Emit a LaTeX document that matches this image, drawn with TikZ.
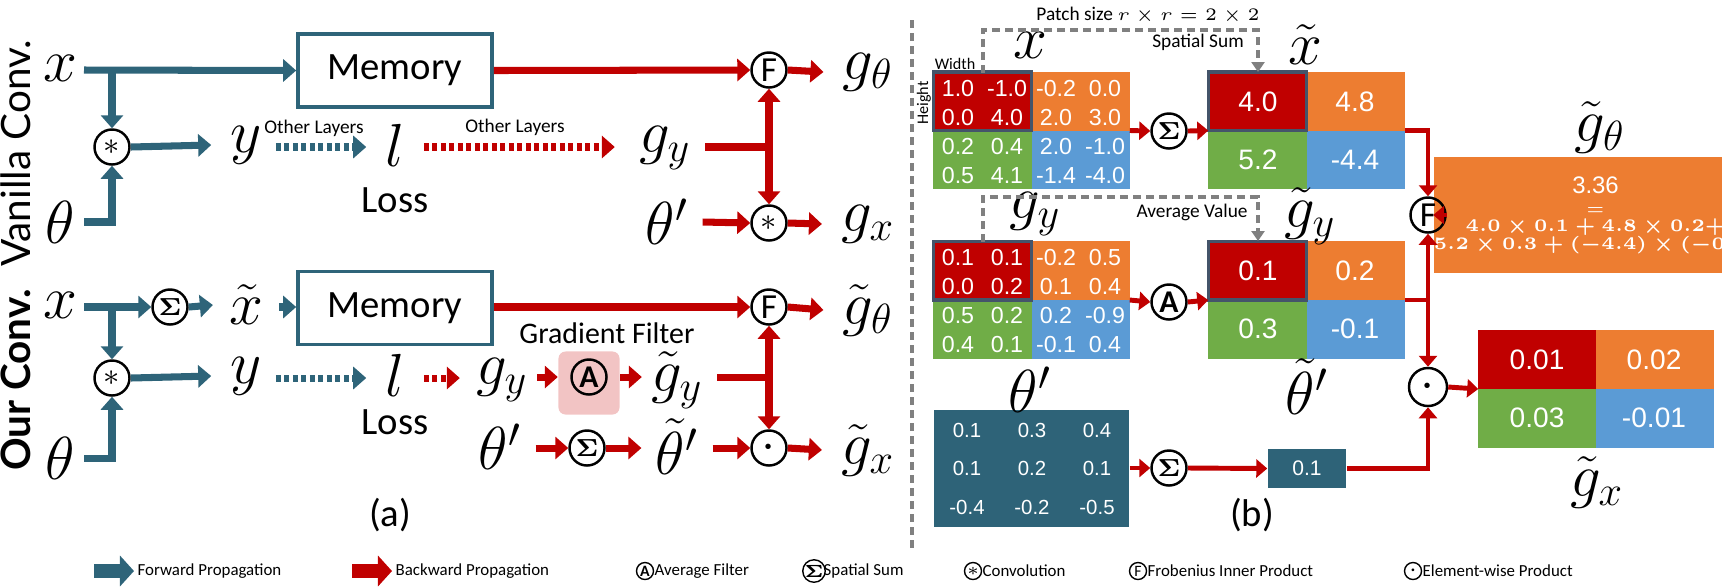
\documentclass[tikz,border=0pt]{standalone}
\usepackage{fontspec}
\usepackage{amsmath}
\setmainfont{Carlito}
\newfontfamily\numfont{Liberation Sans}
\newfontfamily\sidefont{Lato}
\usetikzlibrary{arrows.meta,positioning}

\definecolor{cteal}{HTML}{2E6479}
\definecolor{cred}{HTML}{C00000}
\definecolor{corange}{HTML}{ED7D31}
\definecolor{cgreen}{HTML}{70AD47}
\definecolor{cblue}{HTML}{5B9BD5}
\definecolor{cdark}{HTML}{2E6378}
\definecolor{cline}{HTML}{44546A}
\definecolor{cpink}{HTML}{F2C4C4}

\tikzset{
  fwd/.style={cteal, line width=2pt, -{Triangle[length=0.13cm,width=0.22cm]}},
  bwd/.style={cred, line width=2pt, -{Triangle[length=0.13cm,width=0.22cm]}},
  bwdline/.style={cred, line width=2pt},
  fwdline/.style={cteal, line width=2pt},
  dots/.style={dash pattern=on 0.05cm off 0.035cm},
  bwdb/.style={cred, line width=1.4pt, -{Triangle[length=0.11cm,width=0.18cm]}},
  bwdbline/.style={cred, line width=1.4pt},
  mth/.style={inner sep=1pt, font=\fontsize{17}{19}\selectfont},
  op/.style={circle, draw, line width=0.7pt, minimum size=0.35cm, inner sep=0pt, font=\fontsize{9}{10}\selectfont},
  lop/.style={circle, draw, line width=0.4pt, minimum size=0.17cm, inner sep=0pt, font=\fontsize{4}{4}\selectfont},
  mem/.style={draw=cteal, line width=1pt, minimum width=1.94cm, minimum height=0.73cm, font=\fontsize{11}{12}\selectfont},
  txt/.style={inner sep=0pt, font=\fontsize{11}{12}\selectfont},
  small/.style={inner sep=0pt, font=\fontsize{5.5}{6}\selectfont},
  leg/.style={inner sep=0pt, anchor=west, font=\fontsize{4.8}{5}\selectfont},
  num/.style={inner sep=0pt, text=white, font=\numfont\fontsize{6.6}{7}\selectfont},
  bignum/.style={inner sep=0pt, text=white, font=\numfont\fontsize{8}{9}\selectfont},
  mat/.style={inner sep=0pt, minimum width=1.95cm, minimum height=1.16cm},
  gdash/.style={gray, line width=0.9pt, dash pattern=on 0.08cm off 0.05cm},
}

% four coloured quadrants of a matrix node
\newcommand\quads[1]{%
  \fill[cred] (#1.north west) rectangle (#1.center);
  \fill[corange] (#1.north) rectangle (#1.east);
  \fill[cgreen] (#1.west) rectangle (#1.south);
  \fill[cblue] (#1.center) rectangle (#1.south east);
  \draw[cline, line width=1pt] ([shift={(0.01,-0.01)}]#1.north west) rectangle ([shift={(-0.01,0.01)}]#1.center);
}

\begin{document}
\begin{tikzpicture}[x=0.01cm, y=-0.01cm]
  \useasboundingbox (0,0) rectangle (1722,587);

  % (a) vanilla
  \node[rotate=90, font=\sidefont\fontsize{11.5}{12}\selectfont] (vlab) at (16,153) {Vanilla Conv.};
  \node[mth] (xa) at (60,68) {$x$};
  \node[mth] (tha) at (60,222) {$\theta$};
  \node[mem] (mema) at (395,70.5) {Memory};
  \node[op] (cva) at (112,147) {$\ast$};
  \node[mth] (ya) at (246,145) {$y$};
  \node[mth] (la) at (395,145) {$l$};
  \node[txt] (lossa) at (395,200) {Loss};
  \node[mth] (gya) at (665,148) {$g_y$};
  \node[op, font=\fontsize{10}{10}\selectfont] (fa) at (769,70) {F};
  \node[mth] (gta) at (868,72) {$g_\theta$};
  \node[mth] (tpa) at (667,222) {$\theta'$};
  \node[op] (cvb) at (769,223) {$\ast$};
  \node[mth] (gxa) at (868,224) {$g_x$};
  \node[small] (ola) at (314,128) {Other Layers};
  \node[small] (olb) at (515,127) {Other Layers};
  \coordinate (sxa) at (84,70);
  \coordinate (bxa) at (112,70);
  \coordinate (sta) at (84,222);
  \coordinate (jya) at (769,147);
  \draw[fwd] (sxa) -- (mema.west);
  \draw[fwd] (bxa) -- (cva.north);
  \draw[fwd] (sta) -| (cva.south);
  \draw[fwd] (cva.east) -- ([xshift=-0.15cm]ya.west);
  \draw[fwd, dots] ([xshift=0.1cm]ya.east |- cva.east) -- ([xshift=-0.15cm]la.west |- cva.east);
  \draw[bwd, dots] ([xshift=0.15cm]la.east |- cva.east) -- ([xshift=-0.2cm]gya.west |- cva.east);
  \draw[bwd] (mema.east) -- (fa.west);
  \draw[bwd] (fa.east) -- ([xshift=-0.15cm]gta.west);
  \draw[bwdline] ([xshift=0.1cm]gya.east |- jya) -- (jya);
  \draw[bwd] (jya) -- (fa.south);
  \draw[bwd] (jya) -- (cvb.north);
  \draw[bwd] ([xshift=0.1cm]tpa.east) -- (cvb.west);
  \draw[bwd] (cvb.east) -- ([xshift=-0.15cm]gxa.west);

  % (a) ours
  \node[rotate=90, font=\sidefont\bfseries\fontsize{11.5}{12}\selectfont] (olab) at (16,380) {Our Conv.};
  \node[mth] (xb) at (60,305) {$x$};
  \node[mth] (thb) at (60,458) {$\theta$};
  \node[op, font=\bfseries\fontsize{7}{7}\selectfont] (sa) at (170,307) {$\boldsymbol\Sigma$};
  \node[mth] (xtb) at (246,305) {$\tilde{x}$};
  \node[mem] (memb) at (395,308) {Memory};
  \node[op] (cvc) at (112,378) {$\ast$};
  \node[mth] (yb) at (246,376) {$y$};
  \node[mth] (lb) at (395,375) {$l$};
  \node[txt] (lossb) at (395,422) {Loss};
  \node[mth] (gyb) at (502,380) {$g_y$};
  \node[fill=cpink, rounded corners=2pt, minimum width=0.61cm, minimum height=0.63cm] (gfbox) at (589,383) {};
  \node[op, font=\bfseries\fontsize{9}{9}\selectfont] (ab) at (589,377) {A};
  \node[mth] (gtyb) at (677,380) {$\tilde{g}_y$};
  \node[font=\fontsize{8.5}{9}\selectfont] (gflab) at (607,333) {Gradient Filter};
  \node[mth] (tpb) at (500,447) {$\theta'$};
  \node[op, font=\bfseries\fontsize{7}{7}\selectfont] (sc) at (587,448) {$\boldsymbol\Sigma$};
  \node[mth] (ttb) at (677,447) {$\tilde{\theta}'$};
  \node[op, font=\fontsize{14}{14}\selectfont] (pa) at (769,448) {$\cdot$};
  \node[mth] (gtxb) at (868,450) {$\tilde{g}_x$};
  \node[op, font=\fontsize{10}{10}\selectfont] (fb) at (769,307) {F};
  \node[mth] (gttb) at (868,310) {$\tilde{g}_\theta$};
  \coordinate (sxb) at (84,307);
  \coordinate (bxb) at (112,307);
  \coordinate (stb) at (84,458);
  \coordinate (jyb) at (769,377);
  \draw[fwd] (sxb) -- (sa.west);
  \draw[fwd] (bxb) -- (cvc.north);
  \draw[fwd] (stb) -| (cvc.south);
  \draw[fwd] (sa.east) -- ([xshift=-0.12cm]xtb.west);
  \draw[fwd] ([xshift=0.12cm]xtb.east |- sa.east) -- (memb.west |- sa.east);
  \draw[fwd] (cvc.east) -- ([xshift=-0.15cm]yb.west);
  \draw[fwd, dots] ([xshift=0.1cm]yb.east |- cvc.east) -- ([xshift=-0.15cm]lb.west |- cvc.east);
  \draw[bwd, dots] ([xshift=0.15cm]lb.east |- cvc.east) -- ([xshift=-0.12cm]gyb.west |- cvc.east);
  \draw[bwd] ([xshift=0.05cm]gyb.east |- ab.west) -- (gfbox.west |- ab.west);
  \draw[bwd] (gfbox.east |- ab.east) -- ([xshift=-0.05cm]gtyb.west |- ab.east);
  \draw[bwd] (memb.east |- fb.west) -- (fb.west);
  \draw[bwd] (fb.east) -- ([xshift=-0.15cm]gttb.west);
  \draw[bwdline] ([xshift=0.1cm]gtyb.east |- jyb) -- (jyb);
  \draw[bwd] (jyb) -- (fb.south);
  \draw[bwd] (jyb) -- (pa.north);
  \draw[bwd] ([xshift=0.1cm]tpb.east |- sc.west) -- (sc.west);
  \draw[bwd] (sc.east) -- ([xshift=-0.1cm]ttb.west |- sc.east);
  \draw[bwd] ([xshift=0.1cm]ttb.east |- pa.west) -- (pa.west);
  \draw[bwd] (pa.east) -- ([xshift=-0.15cm]gtxb.west);

  \node[font=\fontsize{11}{12}\selectfont] (capa) at (390,515) {(a)};

  % separator
  \draw[gdash] (912,20) -- (912,550);

  % (b) matrices
  \node[mat] (mx) at (1031.5,130.5) {};
  \quads{mx}
  \node[mat] (mxt) at (1306.5,130.5) {};
  \quads{mxt}
  \node[mat] (mgy) at (1031.5,300) {};
  \quads{mgy}
  \node[mat] (mgt) at (1306.5,300) {};
  \quads{mgt}
  \foreach \r/\row in {0/{1.0,-1.0,-0.2,0.0}, 1/{0.0,4.0,2.0,3.0}, 2/{0.2,0.4,2.0,-1.0}, 3/{0.5,4.1,-1.4,-4.0}}
    \foreach \v [count=\c from 0] in \row
      \node[num] (mx-\r-\c) at ({958+49*\c},{88+29.3*\r}) {\v};
  \foreach \r/\row in {0/{0.1,0.1,-0.2,0.5}, 1/{0.0,0.2,0.1,0.4}, 2/{0.5,0.2,0.2,-0.9}, 3/{0.4,0.1,-0.1,0.4}}
    \foreach \v [count=\c from 0] in \row
      \node[num] (mgy-\r-\c) at ({958+49*\c},{257+29.3*\r}) {\v};
  \foreach \v/\c/\r in {4.0/0/0, 4.8/1/0, 5.2/0/1, -4.4/1/1}
    \node[bignum] (mxt-\r-\c) at ({1258+97*\c},{102+58*\r}) {\v};
  \foreach \v/\c/\r in {0.1/0/0, 0.2/1/0, 0.3/0/1, -0.1/1/1}
    \node[bignum] (mgt-\r-\c) at ({1258+97*\c},{271+58*\r}) {\v};
  \node[mat, fill=cdark, minimum height=1.17cm] (mtp) at (1031.5,468.5) {};
  \foreach \r/\row in {0/{0.1,0.3,0.4}, 1/{0.1,0.2,0.1}, 2/{-0.4,-0.2,-0.5}}
    \foreach \v [count=\c from 0] in \row
      \node[num, font=\numfont\fontsize{5.8}{6}\selectfont] (mtp-\r-\c) at ({967+65*\c},{430+38.5*\r}) {\v};
  \node[fill=cdark, minimum width=0.78cm, minimum height=0.39cm, inner sep=0pt, text=white, font=\numfont\fontsize{6}{6}\selectfont] (mone) at (1307,468.5) {0.1};
  \node[fill=corange, minimum width=2.35cm, minimum height=1.16cm, inner sep=0pt, text=white, align=center, font=\fontsize{4}{5}\selectfont] (ores) at (1595.5,215)
    {{\numfont\fontsize{6.8}{8}\selectfont 3.36}\\[1pt]
     {$=$}\\
     {\boldmath $4.0\times0.1+4.8\times0.2+$}\\
     {\boldmath $5.2\times0.3+(-4.4)\times(-0.1)$}};
  \node[inner sep=0pt, minimum width=2.34cm, minimum height=1.16cm] (mres) at (1596,389) {};
  \fill[cred] (mres.north west) rectangle (mres.center);
  \fill[corange] (mres.north) rectangle (mres.east);
  \fill[cgreen] (mres.west) rectangle (mres.south);
  \fill[cblue] (mres.center) rectangle (mres.south east);
  \foreach \v/\c/\r in {0.01/0/0, 0.02/1/0, 0.03/0/1, -0.01/1/1}
    \node[bignum] (mres-\r-\c) at ({1537+117*\c},{360+58*\r}) {\v};

  % (b) labels
  \node[mth] (lx) at (1030,45) {$x$};
  \node[mth] (lxt) at (1305,45) {$\tilde{x}$};
  \node[mth] (lgy) at (1035,214) {$g_y$};
  \node[mth] (lgt) at (1310,216) {$\tilde{g}_y$};
  \node[mth] (ltp) at (1030,390) {$\theta'$};
  \node[mth] (ltt) at (1307,387) {$\tilde{\theta}'$};
  \node[mth] (lgth) at (1600,127) {$\tilde{g}_\theta$};
  \node[mth] (lgx) at (1597,482) {$\tilde{g}_x$};
  \node[inner sep=0pt, font=\fontsize{4.6}{5}\selectfont] (lw) at (955,64) {Width};
  \node[inner sep=0pt, rotate=90, font=\fontsize{4.6}{5}\selectfont] (lh) at (924,103) {Height};
  \node[small] (lps) at (1148,15) {Patch size $r\times r=2\times 2$};
  \node[small] (lss) at (1198,42) {Spatial Sum};
  \node[small] (lav) at (1192,212) {Average Value};

  % (b) guide lines
  \coordinate (pxs) at (983,73);
  \coordinate (pxe) at (1258,72);
  \coordinate (pgs) at (983,242);
  \coordinate (pge) at (1258,241);
  \draw[gdash, -{Triangle[length=0.1cm,width=0.13cm]}] (pxs) -- ++(0,-43) -| (pxe);
  \draw[gdash, -{Triangle[length=0.1cm,width=0.13cm]}] (pgs) -- ++(0,-45) -| (pge);

  % (b) operators
  \node[op, font=\bfseries\fontsize{7}{7}\selectfont] (sx) at (1169,131) {$\boldsymbol\Sigma$};
  \node[op, font=\bfseries\fontsize{9}{9}\selectfont] (ag) at (1169,302) {A};
  \node[op, font=\bfseries\fontsize{7}{7}\selectfont] (stp) at (1169,468) {$\boldsymbol\Sigma$};
  \node[op, font=\fontsize{10}{10}\selectfont] (fc) at (1428,215) {F};
  \node[op, minimum size=0.38cm, font=\fontsize{14}{14}\selectfont] (pb) at (1428,387) {$\cdot$};
  \coordinate (jb) at (1428,300);
  \draw[bwdb] (mx.east) -- (sx.west);
  \draw[bwdb] (sx.east) -- (mxt.west);
  \draw[bwdb] (mgy.east) -- (ag.west);
  \draw[bwdb] (ag.east) -- (mgt.west);
  \draw[bwdb] (mtp.east |- stp.west) -- (stp.west);
  \draw[bwdb] (stp.east) -- (mone.west);
  \draw[bwdb] (mxt.east) -| (fc.north);
  \draw[bwdbline] (mgt.east) -- (jb);
  \draw[bwdb] (jb) -- (fc.south);
  \draw[bwdb] (jb) -- (pb.north);
  \draw[bwdb] (mone.east) -| (pb.south);
  \draw[bwdb] (fc.east) -- (ores.west);
  \draw[bwdb] (pb.east) -- (mres.west);

  \node[font=\fontsize{11}{12}\selectfont] (capb) at (1252,515) {(b)};

  % legend
  \coordinate (lfa) at (94,571);
  \coordinate (lfb) at (134,571);
  \coordinate (lba) at (352,571);
  \coordinate (lbb) at (392,571);
  \draw[cteal, line width=4pt, -{Triangle[length=0.14cm,width=0.3cm]}] (lfa) -- (lfb);
  \draw[cred, line width=4pt, -{Triangle[length=0.14cm,width=0.3cm]}] (lba) -- (lbb);
  \node[leg] (tfw) at (137,571) {Forward Propagation};
  \node[leg] (tbw) at (395,571) {Backward Propagation};
  \node[lop, font=\bfseries\fontsize{4.5}{5}\selectfont] (oa) at (645,571) {A};
  \node[leg] (ta) at (654,571) {Average Filter};
  \node[lop, font=\bfseries\fontsize{4}{4}\selectfont] (os) at (814,571) {$\boldsymbol\Sigma$};
  \node[leg] (ts) at (823,571) {Spatial Sum};
  \node[lop] (oc) at (973,571) {$\ast$};
  \node[leg] (tc) at (982,571) {Convolution};
  \node[lop, font=\fontsize{4.5}{5}\selectfont] (of) at (1138,571) {F};
  \node[leg] (tf) at (1147,571) {Frobenius Inner Product};
  \node[lop, font=\fontsize{7}{7}\selectfont] (oe) at (1413,571) {$\cdot$};
  \node[leg] (te) at (1422,571) {Element-wise Product};
\end{tikzpicture}
\end{document}
